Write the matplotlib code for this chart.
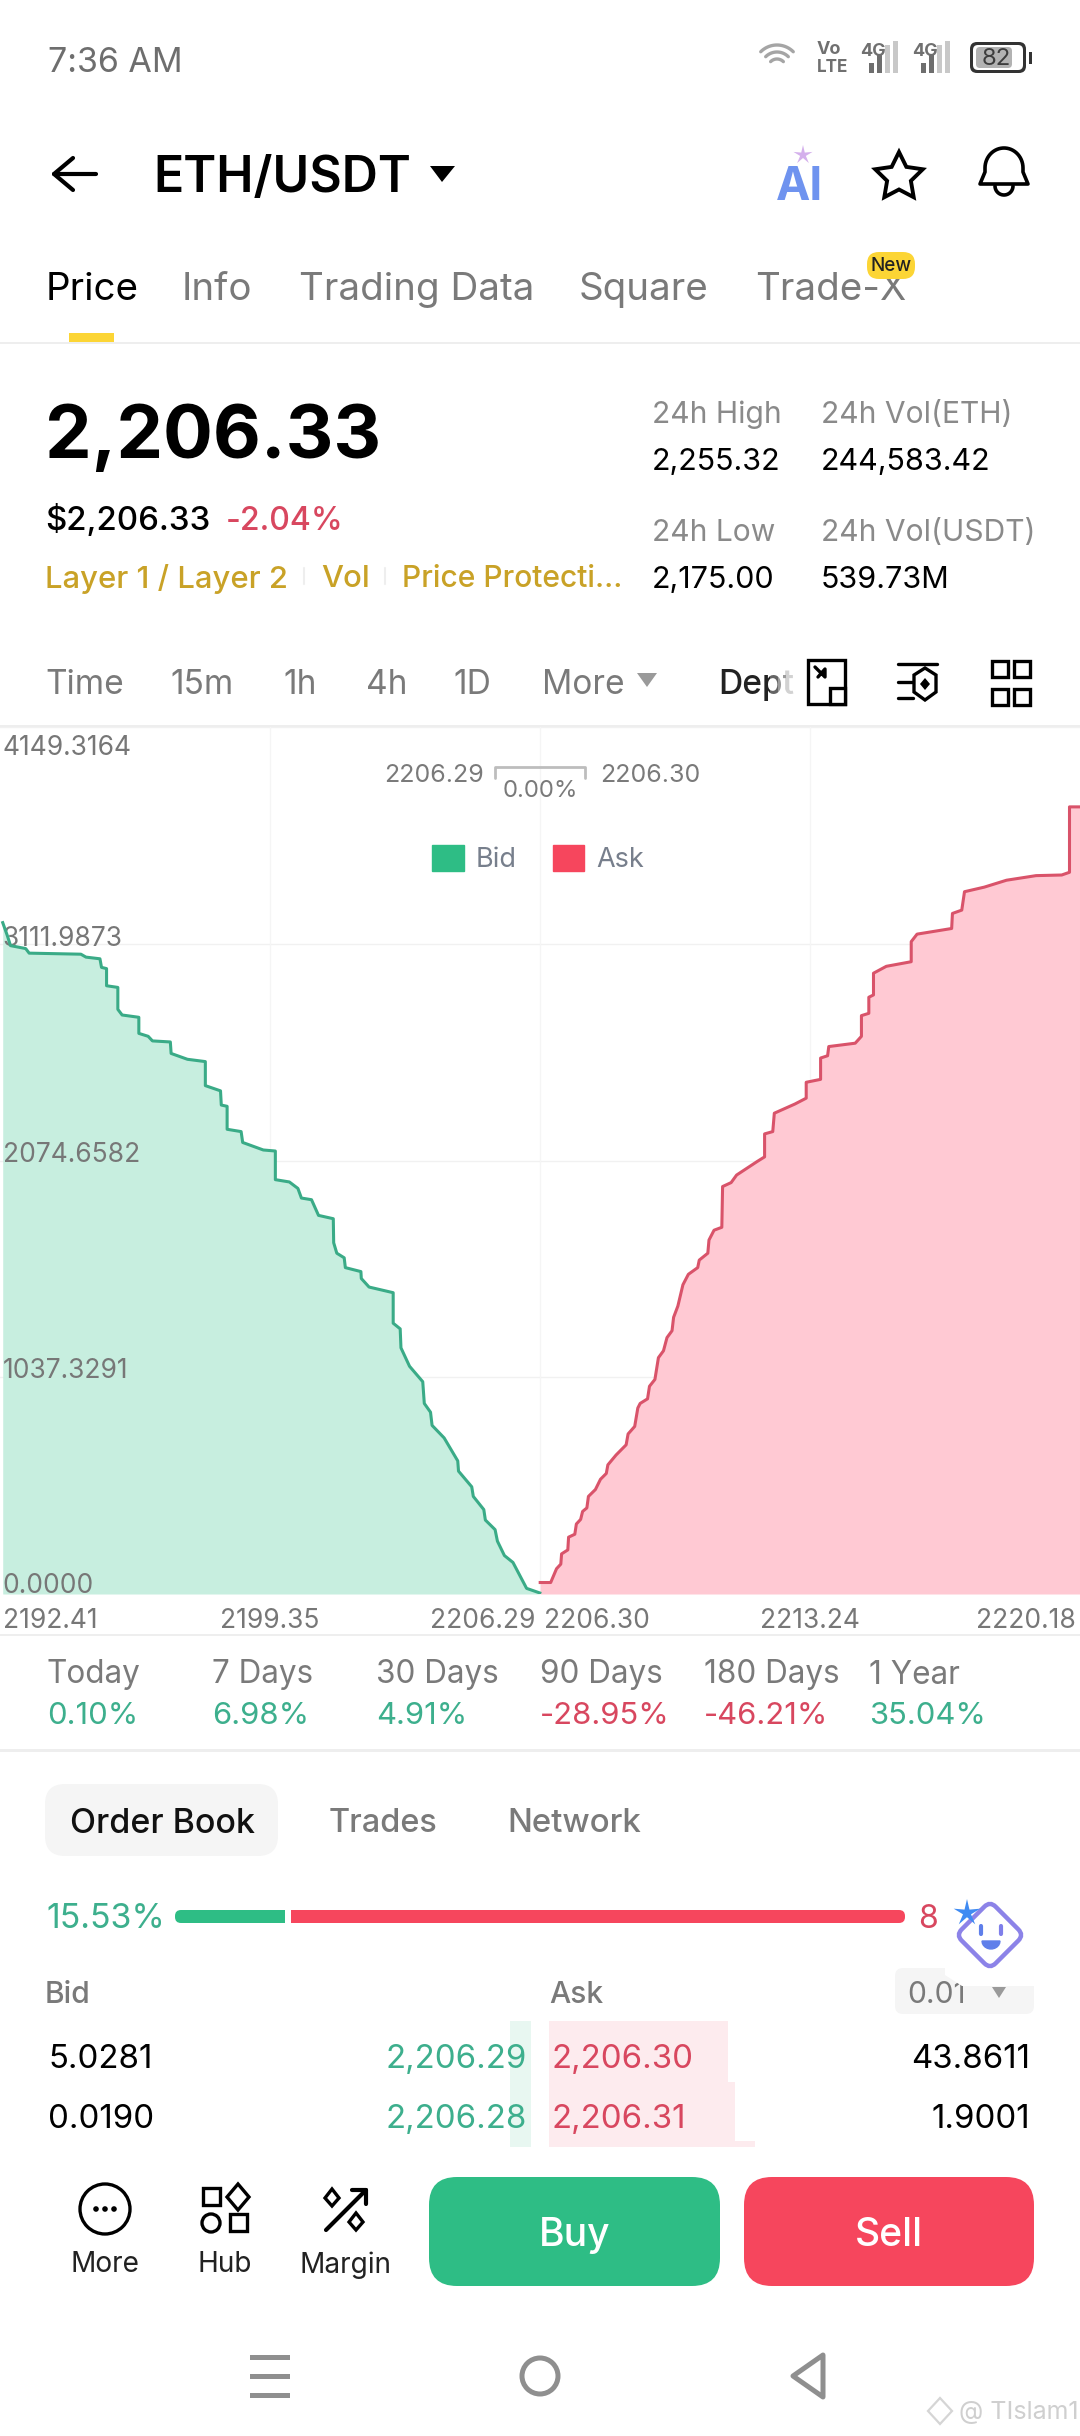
"""Depth chart screen for ETH/USDT, drawn as a phone screenshot."""

import numpy as np
import matplotlib
matplotlib.use("Agg")
import matplotlib.pyplot as plt
from matplotlib.patches import Circle, FancyBboxPatch, Patch, Polygon, Rectangle
from matplotlib.transforms import Affine2D, ScaledTranslation

plt.rcParams["font.family"] = ["Inter", "DejaVu Sans"]

# depth chart data
bid_price = [2192.48, 2192.60, 2192.68, 2193.07, 2193.16, 2194.49, 2194.62, 2194.98, 2195.02, 2195.15,
             2195.15, 2195.44, 2195.44, 2195.55, 2195.98, 2195.98, 2196.22, 2196.33, 2196.79, 2196.81,
             2197.23, 2197.69, 2197.69, 2198.08, 2198.10, 2198.25, 2198.25, 2198.61, 2198.65, 2199.18,
             2199.49, 2199.49, 2199.85, 2200.07, 2200.16, 2200.42, 2200.60, 2200.98, 2200.99, 2201.07,
             2201.26, 2201.29, 2201.69, 2201.70, 2201.90, 2202.52, 2202.52, 2202.70, 2202.72, 2202.94,
             2203.28, 2203.32, 2203.48, 2203.52, 2203.83, 2204.18, 2204.20, 2204.54, 2204.58, 2204.85,
             2204.89, 2205.14, 2205.20, 2205.38, 2205.60, 2205.95, 2206.29]
bid_volume = [3213, 3150, 3103, 3089, 3067, 3062, 3048, 3040, 2999, 2993,
              2911, 2903, 2798, 2771, 2760, 2683, 2669, 2647, 2642, 2587,
              2559, 2548, 2433, 2408, 2340, 2334, 2224, 2213, 2161, 2125,
              2120, 1983, 1972, 1941, 1895, 1887, 1812, 1796, 1681, 1631,
              1609, 1562, 1543, 1510, 1469, 1442, 1296, 1269, 1178, 1090,
              1016, 912, 870, 807, 747, 637, 588, 513, 467, 404,
              354, 308, 253, 184, 151, 27, 5]
ask_price = [2206.30, 2206.57, 2206.72, 2206.83, 2206.85, 2207.01, 2207.03, 2207.19, 2207.23, 2207.34,
             2207.39, 2207.50, 2207.54, 2207.72, 2207.85, 2208.00, 2208.04, 2208.25, 2208.51, 2208.56,
             2208.73, 2208.81, 2208.87, 2209.06, 2209.11, 2209.25, 2209.34, 2209.47, 2209.56, 2209.69,
             2209.73, 2209.84, 2209.97, 2210.11, 2210.35, 2210.39, 2210.61, 2210.64, 2210.77, 2210.97,
             2210.99, 2211.21, 2211.35, 2211.88, 2212.07, 2212.07, 2212.28, 2212.32, 2212.85, 2213.14,
             2213.14, 2213.51, 2213.51, 2213.69, 2213.72, 2214.40, 2214.56, 2214.56, 2214.75, 2214.75,
             2214.87, 2214.87, 2215.20, 2215.84, 2215.84, 2215.99, 2216.88, 2216.90, 2217.14, 2217.21,
             2217.72, 2218.29, 2219.05, 2219.71, 2219.91, 2219.91, 2220.18]
ask_volume = [55, 55, 121, 143, 192, 211, 272, 286, 335, 357,
              395, 412, 467, 500, 549, 577, 618, 665, 714, 766,
              802, 890, 912, 934, 994, 1027, 1131, 1164, 1227, 1260,
              1324, 1378, 1480, 1530, 1562, 1598, 1631, 1694, 1741, 1755,
              1950, 1969, 2005, 2070, 2092, 2202, 2213, 2301, 2345, 2373,
              2449, 2463, 2565, 2576, 2620, 2636, 2669, 2768, 2779, 2856,
              2867, 2971, 3004, 3026, 3122, 3158, 3185, 3257, 3273, 3361,
              3383, 3416, 3438, 3441, 3454, 3767, 3767]
y_ticks = [0.0, 1037.3291, 2074.6582, 3111.9873, 4149.3164]
x_ticks = [2192.41, 2199.35, 2206.29, 2206.30, 2213.24, 2220.18]
x_tick_has = ["left", "center", "right", "left", "center", "right"]
x_tick_shift = [3, 0, -4, 4, 0, -4]
y_tick_shift = [8, 6, 6, 5, -21]

# screen text
tabs = ["Price", "Info", "Trading Data", "Square", "Trade-X"]
tab_x = [46, 182, 299, 579, 755]
intervals = ["Time", "15m", "1h", "4h", "1D", "More"]
interval_x = [45, 170, 283, 366, 453, 542]
periods = ["Today", "7 Days", "30 Days", "90 Days", "180 Days", "1 Year"]
period_values = ["0.10%", "6.98%", "4.91%", "-28.95%", "-46.21%", "35.04%"]
period_x = [47, 212, 376, 540, 704, 869]
bid_rows = [("5.0281", "2,206.29"), ("0.0190", "2,206.28")]
ask_rows = [("2,206.30", "43.8611"), ("2,206.31", "1.9001")]

GREEN = "#2EBD85"
RED = "#F6465D"
TEXT_GREEN = "#3DAF8D"
TEXT_RED = "#D8475F"
GRAY = "#7A7A7A"
GOLD = "#C9A227"
W, H = 1080, 2436

fig = plt.figure(figsize=(W / 100, H / 100), dpi=100, facecolor="white")

# chart axes, from the top border to the baseline
ax = fig.add_axes([0, 1 - 1594 / H, 1, (1594 - 727) / H])
ax.set_xlim(2192.41, 2220.18)
ax.set_ylim(0, 4149.3164)
for yt in y_ticks[1:]:
    ax.axhline(yt, color="#F1F1F1", lw=1, zorder=0.5)
for xt in [2199.35, 2206.295, 2213.24]:
    ax.axvline(xt, color="#F5F5F5", lw=1, zorder=0.5)
ax.fill_between(bid_price, bid_volume, color="#C7EEDF", lw=0, zorder=1)
ax.fill_between(ask_price, ask_volume, color="#FFC9D3", lw=0, zorder=1)
ax.plot(bid_price, bid_volume, color="#3AAB87", lw=2.2, zorder=2, solid_joinstyle="round")
ax.plot(ask_price, ask_volume, color="#D9536A", lw=2.2, zorder=2, solid_joinstyle="round")
for side in ax.spines.values():
    side.set_visible(False)
ax.set_yticks(y_ticks, [f"{v:.4f}" for v in y_ticks])
ax.set_xticks(x_ticks, [f"{v:.2f}" for v in x_ticks])
ax.tick_params(axis="y", length=0, pad=-2, labelsize=19, labelcolor="#777777")
ax.tick_params(axis="x", length=0, pad=10, labelsize=19, labelcolor="#777777")
for lab, dy in zip(ax.get_yticklabels(), y_tick_shift):
    lab.set_ha("left")
    lab.set_va("center")
    lab.set_transform(lab.get_transform() + ScaledTranslation(0, dy / 100, fig.dpi_scale_trans))
for lab, ha, dx in zip(ax.get_xticklabels(), x_tick_has, x_tick_shift):
    lab.set_ha(ha)
    lab.set_transform(lab.get_transform() + ScaledTranslation(dx / 100, 0, fig.dpi_scale_trans))
handles = [Patch(color=GREEN, label="Bid"), Patch(color=RED, label="Ask")]
ax.legend(handles=handles, ncol=2, frameon=False, loc="center", bbox_to_anchor=(0.4985, 0.848),
          fontsize=19.5, labelcolor="#777F8C", handlelength=1.15, handleheight=1.1,
          handletextpad=0.45, columnspacing=1.35)

# overlay in screen pixels for the rest of the app
ui = fig.add_axes([0, 0, 1, 1], zorder=5)
ui.set_xlim(0, W)
ui.set_ylim(H, 0)
ui.axis("off")
ui.patch.set_alpha(0)


def txt(x, y, s, px, color="black", ha="left", weight="normal", **kw):
    # text centres sit a little high with va="center", hence the fixed nudge
    return ui.text(x, y + 9, s, fontsize=px * 0.72, color=color, ha=ha, va="center", weight=weight, **kw)


def rrect(x0, y0, x1, y1, r, color, zorder=1):
    ui.add_patch(FancyBboxPatch((x0 + r, y0 + r), x1 - x0 - 2 * r, y1 - y0 - 2 * r,
                                boxstyle=f"round,pad={r}", fc=color, ec="none", zorder=zorder))


def seg(xs, ys, color="black", lw=2.4, **kw):
    ui.plot(xs, ys, color=color, lw=lw, solid_capstyle="round", **kw)


def star(cx, cy, r, inner=0.45, **kw):
    ang = np.deg2rad(-90 + 36 * np.arange(10))
    rad = np.where(np.arange(10) % 2 == 0, r, r * inner)
    ui.add_patch(Polygon(np.c_[cx + rad * np.cos(ang), cy + rad * np.sin(ang)], **kw))


# status bar
txt(48, 54, "7:36 AM", 34, "#6E6E6E")
for r in [9, 16, 23]:
    t = np.deg2rad(np.linspace(-135, -45, 20))
    seg(777 + r * np.cos(t), 68 + r * np.sin(t), "#A5A5A5", lw=2.4)
txt(817, 40, "Vo", 18, "#707070", weight="bold")
txt(817, 59, "LTE", 17, "#707070", weight="bold")
for x0 in [860, 912]:
    txt(x0, 42, "4G", 18, "#707070", weight="bold")
    for i, h in enumerate([10, 18, 28, 32]):
        ui.add_patch(Rectangle((x0 + 9 + i * 8, 73 - h), 4.5, h, fc="#6E6E6E" if i < 2 else "#C8C8C8",
                               ec="none", zorder=1))
rrect(970, 42, 1026, 73, 7, "#333333")
rrect(973, 45, 1023, 70, 5, "white")
rrect(976, 47, 1012, 68, 4, "#B2B2B2")
txt(996, 50, "82", 24, "#3C3C3C", ha="center")
ui.add_patch(Rectangle((1029, 52), 3, 12, fc="#333333", ec="none"))

# header
seg([54, 96], [174, 174], lw=3)
seg([73, 54, 73], [158, 174, 190], lw=3)
txt(153, 170, "ETH/USDT", 50, weight="semibold")
ui.add_patch(Polygon([[430, 166], [455, 166], [442, 182]], fc="black", ec="none"))
txt(800, 179, "AI", 46, "#6F93EF", ha="center", weight="bold")
star(803, 155, 10, inner=0.3, fc="#D4B0EC", ec="none")
star(899, 177, 25, inner=0.5, fc="white", ec="black", lw=2.8)
t = np.deg2rad(np.linspace(180, 360, 30))
bell_x = np.r_[980, 985, 1004 + 19 * np.cos(t), 1023, 1028]
bell_y = np.r_[184, 172, 168 + 20 * np.sin(t), 172, 184]
ui.add_patch(Polygon(np.c_[bell_x, bell_y], fc="white", ec="black", lw=2.6, joinstyle="round"))
t = np.deg2rad(np.linspace(0, 180, 20))
seg(1004 + 9 * np.cos(t), 186 + 9 * np.sin(t), lw=2.6)

# tabs
for i, (label, x) in enumerate(zip(tabs, tab_x)):
    txt(x, 281, label, 38.5, "black" if i == 0 else GRAY)
ui.add_patch(Rectangle((69, 333), 45, 9, fc="#FCD535", ec="none"))
ui.add_patch(Rectangle((0, 342), W, 2, fc="#EEEEEE", ec="none"))
rrect(867, 252, 915, 279, 12, "#FCD535", zorder=3.5)
txt(891, 257, "New", 19, "#222222", ha="center", weight="medium", zorder=4)

# price block
txt(45, 430, "2,206.33", 74, weight="bold")
txt(45, 512, "$2,206.33", 33, weight="medium")
txt(226, 512, "-2.04%", 32, TEXT_RED, weight="medium")
txt(45, 570, "Layer 1 / Layer 2", 31, GOLD, weight="medium")
txt(321, 570, "Vol", 31, GOLD, weight="medium")
txt(402, 570, "Price Protecti...", 30, GOLD, weight="medium")
for x in [304, 385]:
    seg([x, x], [568, 584], "#EEEEEE", lw=1.5)
for x, top, top_val, bottom, bottom_val in [(652, "24h High", "2,255.32", "24h Low", "2,175.00"),
                                            (821, "24h Vol(ETH)", "244,583.42", "24h Vol(USDT)", "539.73M")]:
    txt(x, 406, top, 30, "#8A8A8A")
    txt(x, 453, top_val, 30.5)
    txt(x, 524, bottom, 30, "#8A8A8A")
    txt(x, 571, bottom_val, 30.5)

# interval row
for label, x in zip(intervals, interval_x):
    txt(x, 676, label, 33.5, GRAY)
ui.add_patch(Polygon([[637, 673], [657, 673], [647, 687]], fc="#9A9A9A", ec="none"))
txt(718, 676, "Dept", 33.5, "#222222", weight="medium")
for i, fade in enumerate([0.3, 0.55, 0.8, 0.95]):
    ui.add_patch(Rectangle((770 + i * 8, 655), 8, 55, fc="white", ec="none", alpha=fade, zorder=3.5))
ui.add_patch(Rectangle((802, 655), 8, 55, fc="white", ec="none", zorder=3.5))
ui.add_patch(Rectangle((808, 660), 37, 44, fc="white", ec="black", lw=2.4, zorder=4))
ui.add_patch(Rectangle((830, 688), 15, 16, fc="white", ec="black", lw=2.4, zorder=4.1))
seg([815, 825, 825, 818], [667, 677, 669, 677], lw=2.4, zorder=4.1)
seg([898, 937], [664, 664], lw=2.4)
seg([898, 913], [682, 682], lw=2.4)
seg([898, 913], [698, 698], lw=2.4)
ui.add_patch(Polygon([[925, 668], [936, 675], [936, 692], [925, 700], [914, 692], [914, 675]],
                     fc="white", ec="black", lw=2.4, zorder=3))
ui.add_patch(Polygon([[925, 678], [930, 684], [925, 690], [920, 684]], fc="black", ec="none", zorder=3.1))
for bx, by in [(992, 661), (1014, 661), (992, 689), (1014, 689)]:
    ui.add_patch(Rectangle((bx, by), 16, 16, fc="white", ec="black", lw=2.4))

# chart annotations
ui.add_patch(Rectangle((0, 725), W, 2, fc="#EEEEEE", ec="none"))
ui.add_patch(Rectangle((0, 1634), W, 2, fc="#EEEEEE", ec="none"))
txt(384, 766, "2206.29", 25, GRAY)
txt(600, 766, "2206.30", 25, GRAY)
seg([495, 495, 585, 585], [778, 767, 767, 778], "#BDBDBD", lw=2)
txt(540, 782, "0.00%", 24, GRAY, ha="center")

# period changes
for label, value, x in zip(periods, period_values, period_x):
    txt(x, 1666, label, 31.5, GRAY)
    txt(x, 1707, value, 31, TEXT_RED if value.startswith("-") else TEXT_GREEN)
ui.add_patch(Rectangle((0, 1749), W, 2.5, fc="#EEEEEE", ec="none"))

# order book
rrect(45, 1784, 278, 1856, 20, "#F5F5F5")
txt(70, 1815, "Order Book", 34, "#111111", weight="medium")
txt(329, 1815, "Trades", 32.5, GRAY, weight="medium")
txt(507, 1815, "Network", 33, GRAY, weight="medium")
txt(46, 1910, "15.53%", 34, TEXT_GREEN)
txt(918, 1910, "8", 32, TEXT_RED)
rrect(175, 1910, 285, 1923, 6, GREEN)
ui.add_patch(Rectangle((279, 1910), 6, 13, fc=GREEN, ec="none"))
rrect(291, 1910, 905, 1923, 6, RED)
ui.add_patch(Rectangle((291, 1910), 6, 13, fc=RED, ec="none"))

txt(45, 1986, "Bid", 30, GRAY, weight="medium")
txt(549, 1986, "Ask", 30, GRAY, weight="medium")
rrect(895, 1968, 1034, 2014, 8, "#F5F5F5")
txt(907, 1986, "0.01", 30, GRAY)
ui.add_patch(Polygon([[992, 1987], [1006, 1987], [999, 1998]], fc="#9A9A9A", ec="none"))

ui.add_patch(Rectangle((510, 2021), 21, 126, fc="#E8F7F1", ec="none"))
ui.add_patch(Rectangle((549, 2021), 179, 61, fc="#FDEBEE", ec="none"))
ui.add_patch(Rectangle((549, 2082), 186, 59, fc="#FDEBEE", ec="none"))
ui.add_patch(Rectangle((549, 2141), 206, 6, fc="#FDEBEE", ec="none"))
for row_y, (b_qty, b_px), (a_px, a_qty) in zip([2051, 2111], bid_rows, ask_rows):
    txt(48, row_y, b_qty, 33)
    txt(527, row_y, b_px, 33, TEXT_GREEN, ha="right")
    txt(552, row_y, a_px, 33, TEXT_RED)
    txt(1030, row_y, a_qty, 33, ha="right")

# floating helper badge, masks the top of the tick size selector
ui.add_patch(Polygon([[945, 1890], [1040, 1890], [1040, 1986], [962, 1986], [945, 1975]],
                     fc="white", ec="none", zorder=6))
ui.add_patch(FancyBboxPatch((974, 1919), 32, 32, boxstyle="round,pad=8", fc="white", ec="#8C83E8", lw=3.2,
                            transform=Affine2D().rotate_deg_around(990, 1935, 45) + ui.transData,
                            zorder=7))
star(967, 1913, 14, inner=0.3, fc="#3F8BF2", ec="none", zorder=8)
seg([981, 981], [1926, 1934], "#5F7FEA", lw=3, zorder=8)
seg([1001, 1001], [1926, 1934], "#7F7FEA", lw=3, zorder=8)
t = np.deg2rad(np.linspace(0, 180, 12))
ui.fill(991 + 9 * np.cos(t), 1941 + 8 * np.sin(t), color="#5F7FEA", zorder=8)

# bottom bar
ui.add_patch(Circle((105, 2209), 25, fc="white", ec="black", lw=2.4))
for dx in [-9, 0, 9]:
    ui.add_patch(Circle((105 + dx, 2209), 2.8, fc="black", ec="none"))
ui.add_patch(Rectangle((203, 2188), 17, 17, fc="white", ec="black", lw=2.4))
ui.add_patch(Polygon([[238, 2184], [249, 2197], [238, 2210], [227, 2197]], fc="white", ec="black", lw=2.4))
ui.add_patch(Circle((211, 2223), 9, fc="white", ec="black", lw=2.4))
ui.add_patch(Rectangle((230, 2214), 17, 17, fc="white", ec="black", lw=2.4))
seg([326, 366, 352], [2230, 2190, 2190], lw=3)
seg([366, 366], [2190, 2204], lw=3)
ui.add_patch(Polygon([[332, 2189], [339, 2198], [332, 2206], [325, 2198]], fc="white", ec="black", lw=2.4, zorder=3))
ui.add_patch(Polygon([[356, 2213], [363, 2222], [356, 2230], [349, 2222]], fc="white", ec="black", lw=2.4, zorder=3))
txt(105, 2256, "More", 28, "#222222", ha="center")
txt(225, 2256, "Hub", 28, "#222222", ha="center")
txt(345, 2256, "Margin", 28, "#222222", ha="center")
rrect(429, 2177, 720, 2286, 28, GREEN)
rrect(744, 2177, 1034, 2286, 28, RED)
txt(575, 2227, "Buy", 39, "white", ha="center", weight="medium")
txt(889, 2227, "Sell", 39, "white", ha="center", weight="medium")

# nav bar
for y in [2357, 2376, 2395]:
    ui.add_patch(Rectangle((250, y - 2.5), 40, 5, fc="#8F8F8F", ec="none"))
ui.add_patch(Circle((540, 2376), 18, fc="white", ec="#8F8F8F", lw=3.6))
ui.add_patch(Polygon([[793, 2376], [823, 2355], [823, 2397]], fc="white", ec="#8F8F8F", lw=3.6, joinstyle="round"))

# watermark
ui.add_patch(Polygon([[940, 2398], [952, 2411], [940, 2424], [928, 2411]], fc="none", ec="#D5D5D5", lw=1.6))
txt(959, 2403, "@ TIslam1", 25, "#CFCFCF")

fig.savefig("out.png", dpi=100, facecolor="white")
plt.close(fig)
